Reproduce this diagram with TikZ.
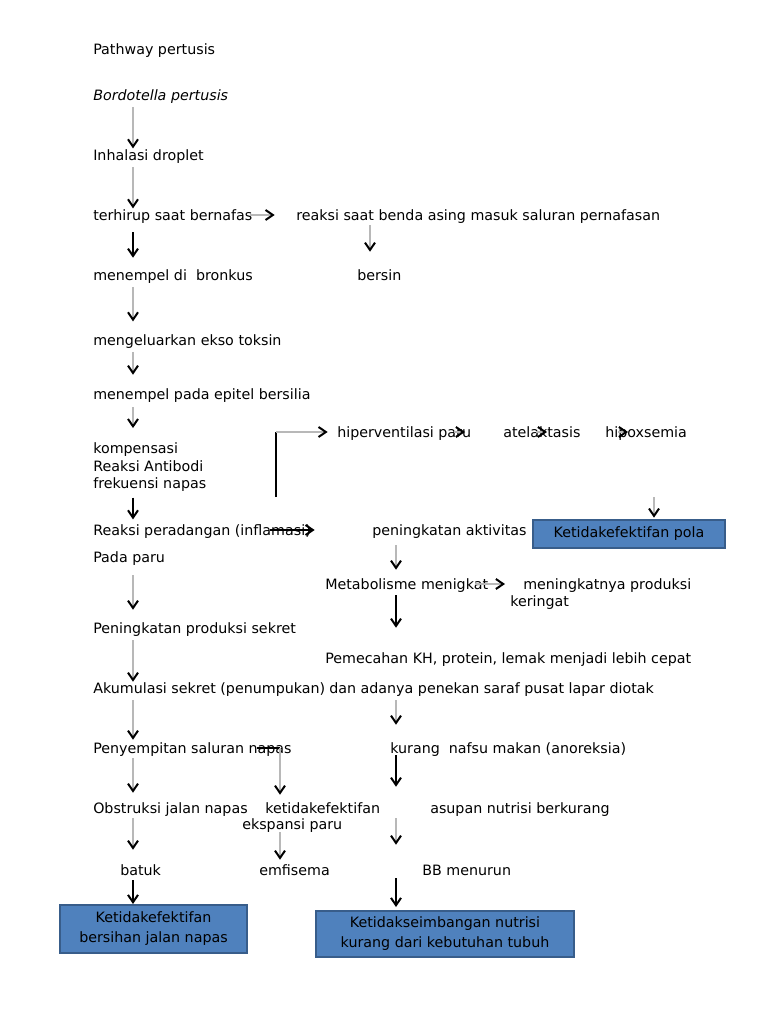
\documentclass[tikz,border=0pt]{standalone}
\usepackage{fontspec}
\setmainfont{DejaVu Sans}
\usetikzlibrary{arrows.meta,positioning}

\definecolor{linegray}{HTML}{B8B8B8}
\definecolor{boxfill}{HTML}{4F81BD}
\definecolor{boxline}{HTML}{385D8A}

\begin{document}
\begin{tikzpicture}[
		x=0.75pt, y=-0.75pt,
		every node/.style={font=\fontsize{10.7pt}{15pt}\selectfont},
		txt/.style={anchor=west, inner sep=0pt, text height=7.5pt, text depth=0pt},
		diag/.style={draw=boxline, line width=1.5pt, fill=boxfill, align=center, inner sep=0pt},
		arr/.style={draw=linegray, line width=0.8pt, shorten <=5pt, shorten >=1pt,
			-{Straight Barb[color=black, length=5.5pt, width=7.5pt, line width=1.5pt]}},
		arrb/.style={arr, draw=black, line width=1pt},
		lineb/.style={draw=black, line width=1pt},
	]
		\useasboundingbox (0,0) rectangle (768,1024);
		
		\coordinate (cL) at (133,0);
		\coordinate (cB) at (370,0);
		\coordinate (cM) at (280,0);
		\coordinate (cR) at (396,0);
		\coordinate (cP) at (654,0);
		
		\node (ttl) [txt] at (93,50) {Pathway pertusis};
		\node (bord) [txt] at (93,95) {\itshape Bordotella pertusis};
		\node (inh) [txt] at (93,155) {Inhalasi droplet};
		\node (ter) [txt] at (93,215) {terhirup saat bernafas};
		\node (rks) [txt] at (296,215) {reaksi saat benda asing masuk saluran pernafasan};
		\node (mnb) [txt] at (93,275) {menempel di\ \ bronkus};
		\node (brs) [txt] at (357,275) {bersin};
		\node (eks) [txt] at (93,340) {mengeluarkan ekso toksin};
		\node (epi) [txt] at (93,394) {menempel pada epitel bersilia};
		\node (komp) [txt] at (93,448) {kompensasi};
		\node (rab) [txt] at (93,466) {Reaksi Antibodi};
		\node (frek) [txt] at (93,483) {frekuensi napas};
		\node (hpv) [txt] at (337,432) {hiperventilasi paru};
		\node (atl) [txt] at (503,432) {atelaktasis};
		\node (hpx) [txt] at (605,432) {hipoxsemia};
		\node (rpd) [txt] at (93,530) {Reaksi peradangan (inflamasi)};
		\node (pak) [txt] at (372,530) {peningkatan aktivitas};
		\node (box3) [diag, minimum width=144pt, minimum height=21pt] at (629,534) {Ketidakefektifan pola};
		\node (pdp) [txt] at (93,557) {Pada paru};
		\node (met) [txt] at (325,584) {Metabolisme menigkat};
		\node (kpr) [txt] at (523,584) {meningkatnya produksi};
		\node (ker) [txt] at (510,601) {keringat};
		\node (sek) [txt] at (93,628) {Peningkatan produksi sekret};
		\node (pmc) [txt] at (325,658) {Pemecahan KH, protein, lemak menjadi lebih cepat};
		\node (aku) [txt] at (93,688) {Akumulasi sekret (penumpukan)};
		\node (lap) [txt] at (329,688) {dan adanya penekan saraf pusat lapar diotak};
		\node (sem) [txt] at (93,748) {Penyempitan saluran napas};
		\node (nfs) [txt] at (390,748) {kurang\ \ nafsu makan (anoreksia)};
		\node (obs) [txt] at (93,808) {Obstruksi jalan napas};
		\node (kef) [txt] at (265,808) {ketidakefektifan};
		\node (eksp) [txt] at (242,824) {ekspansi paru};
		\node (asp) [txt] at (430,808) {asupan nutrisi berkurang};
		\node (btk) [txt] at (120,870) {batuk};
		\node (emf) [txt] at (259,870) {emfisema};
		\node (bbm) [txt] at (422,870) {BB menurun};
		\node (box1) [diag, minimum width=140pt, minimum height=36pt] at (153.5,929) {Ketidakefektifan\\bersihan jalan napas};
		\node (box2) [diag, minimum width=193.5pt, minimum height=34.5pt] at (445,934) {Ketidakseimbangan nutrisi\\kurang dari kebutuhan tubuh};
		
		\draw[arr] (bord.south -| cL) -- (inh.north -| cL);
		\draw[arr] (inh.south -| cL) -- (ter.north -| cL);
		\draw[arr, shorten <=0pt, shorten >=16pt] ([xshift=117.75pt]ter.west) -- (rks.west);
		\draw[arrb, shorten <=9pt, shorten >=9pt] (ter.south -| cL) -- (mnb.north -| cL);
		\draw[arr, shorten <=3.75pt, shorten >=13.5pt] (rks.south -| cB) -- (brs.north -| cB);
		\draw[arr, shorten >=10pt] (mnb.south -| cL) -- (eks.north -| cL);
		\draw[arr, shorten >=10.5pt] (eks.south -| cL) -- (epi.north -| cL);
		\draw[arr, shorten <=6pt, shorten >=11pt] (epi.south -| cL) -- (komp.north -| cL);
		\draw[arrb, shorten <=7pt, shorten >=4pt] (frek.south -| cL) -- (rpd.north -| cL);
		\draw[arrb, shorten <=0pt, shorten >=43pt] ([xshift=132.75pt]rpd.west) -- (pak.west);
		
		\coordinate (brk) at (276,497);
		\draw[lineb] (brk) -- (brk |- hpv.west);
		\draw[arr, shorten <=0pt, shorten >=7pt] (brk |- hpv.west) -- (hpv.west);
		\draw[arr, shorten <=0pt, shorten >=0pt] ([xshift=88pt]hpv.west) -- ([xshift=96pt]hpv.west);
		\draw[arr, shorten <=0pt, shorten >=0pt] ([xshift=25pt]atl.west) -- ([xshift=33pt]atl.west);
		\draw[arr, shorten <=0pt, shorten >=0pt] ([xshift=10pt]hpx.west) -- ([xshift=17.25pt]hpx.west);
		\draw[arr, shorten <=45pt] (hpx.south -| cP) -- (box3.north -| cP);
		
		\draw[arr, shorten <=7.5pt, shorten >=6.75pt] (pak.south -| cR) -- (met.north -| cR);
		\draw[arr, shorten <=0pt, shorten >=13.5pt] ([xshift=112.5pt]met.west) -- (kpr.west);
		\draw[arrb, shorten <=4.5pt, shorten >=18.75pt] (met.south -| cR) -- (pmc.north -| cR);
		\draw[arr, shorten <=9.75pt, shorten >=9.75pt] (pdp.south -| cL) -- (sek.north -| cL);
		\draw[arr, shorten <=5.25pt, shorten >=0.75pt] (sek.south -| cL) -- (aku.north -| cL);
		\draw[arr, shorten <=5.25pt, shorten >=13.5pt] (lap.south -| cR) -- (nfs.north -| cR);
		\draw[arr, shorten <=5.25pt, shorten >=2.25pt] (aku.south -| cL) -- (sem.north -| cL);
		
		\draw[lineb] ([xshift=123pt]sem.west) -- (sem.west -| cM);
		\draw[arr, shorten <=0pt, shorten >=6pt] (sem.west -| cM) -- (kef.north -| cM);
		\draw[arr, shorten <=3.75pt, shorten >=7.5pt] (sem.south -| cL) -- (obs.north -| cL);
		\draw[arrb, shorten <=1.5pt, shorten >=12pt] (nfs.south -| cR) -- (asp.north -| cR);
		\draw[arr, shorten <=3.75pt, shorten >=11.25pt] (obs.south -| cL) -- (btk.north -| cL);
		\draw[arr, shorten <=2.25pt, shorten >=3.75pt] (eksp.south -| cM) -- (emf.north -| cM);
		\draw[arr, shorten <=3.75pt, shorten >=15pt] (asp.south -| cR) -- (bbm.north -| cR);
		\draw[arrb, shorten <=3.75pt, shorten >=0pt] (btk.south -| cL) -- (box1.north -| cL);
		\draw[arrb, shorten <=2.25pt, shorten >=2.25pt] (bbm.south -| cR) -- (box2.north -| cR);
	\end{tikzpicture}
\end{document}
